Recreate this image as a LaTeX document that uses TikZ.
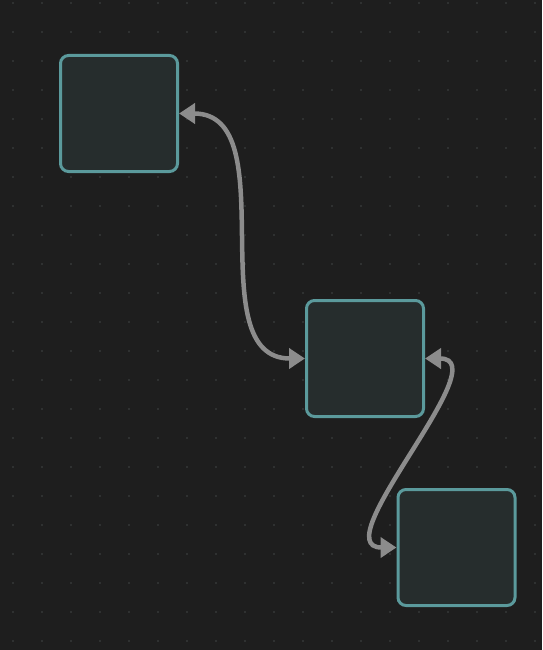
\documentclass[tikz,border=0pt]{standalone}
\usetikzlibrary{arrows.meta}
\definecolor{bg}{HTML}{1E1E1E}
\definecolor{dotc}{HTML}{363838}
\definecolor{boxfill}{HTML}{262D2D}
\definecolor{boxline}{HTML}{5B9A9C}
\definecolor{linkc}{HTML}{8C8C8C}
\tikzset{
  card/.style={draw=boxline, fill=boxfill, line width=3pt, rounded corners=8pt,
    minimum width=117pt, minimum height=116pt, inner sep=0pt},
  link/.style={draw=linkc, line width=4.5pt,
    {Triangle[length=16pt,width=20pt]}-{Triangle[length=16pt,width=20pt]}}
}
\begin{document}
\begin{tikzpicture}[x=1pt,y=-1pt]
\fill[bg] (0,0) rectangle (542,650);
\useasboundingbox (0,0) rectangle (542,650);
\foreach \i in {0,...,18}{
  \foreach \j in {0,...,22}{
    \fill[dotc] (13+29*\i,3+29*\j) circle (1.2pt);
  }
}
\node[card] (a) at (119,113.5) {};
\node[card] (b) at (365,358.5) {};
\node[card] (c) at (456.5,547.5) {};
\draw[link] (a.east) to[out=0,in=180] (b.west);
\draw[link] (b.east) to[out=0,in=180] (c.west);
\end{tikzpicture}
\end{document}
